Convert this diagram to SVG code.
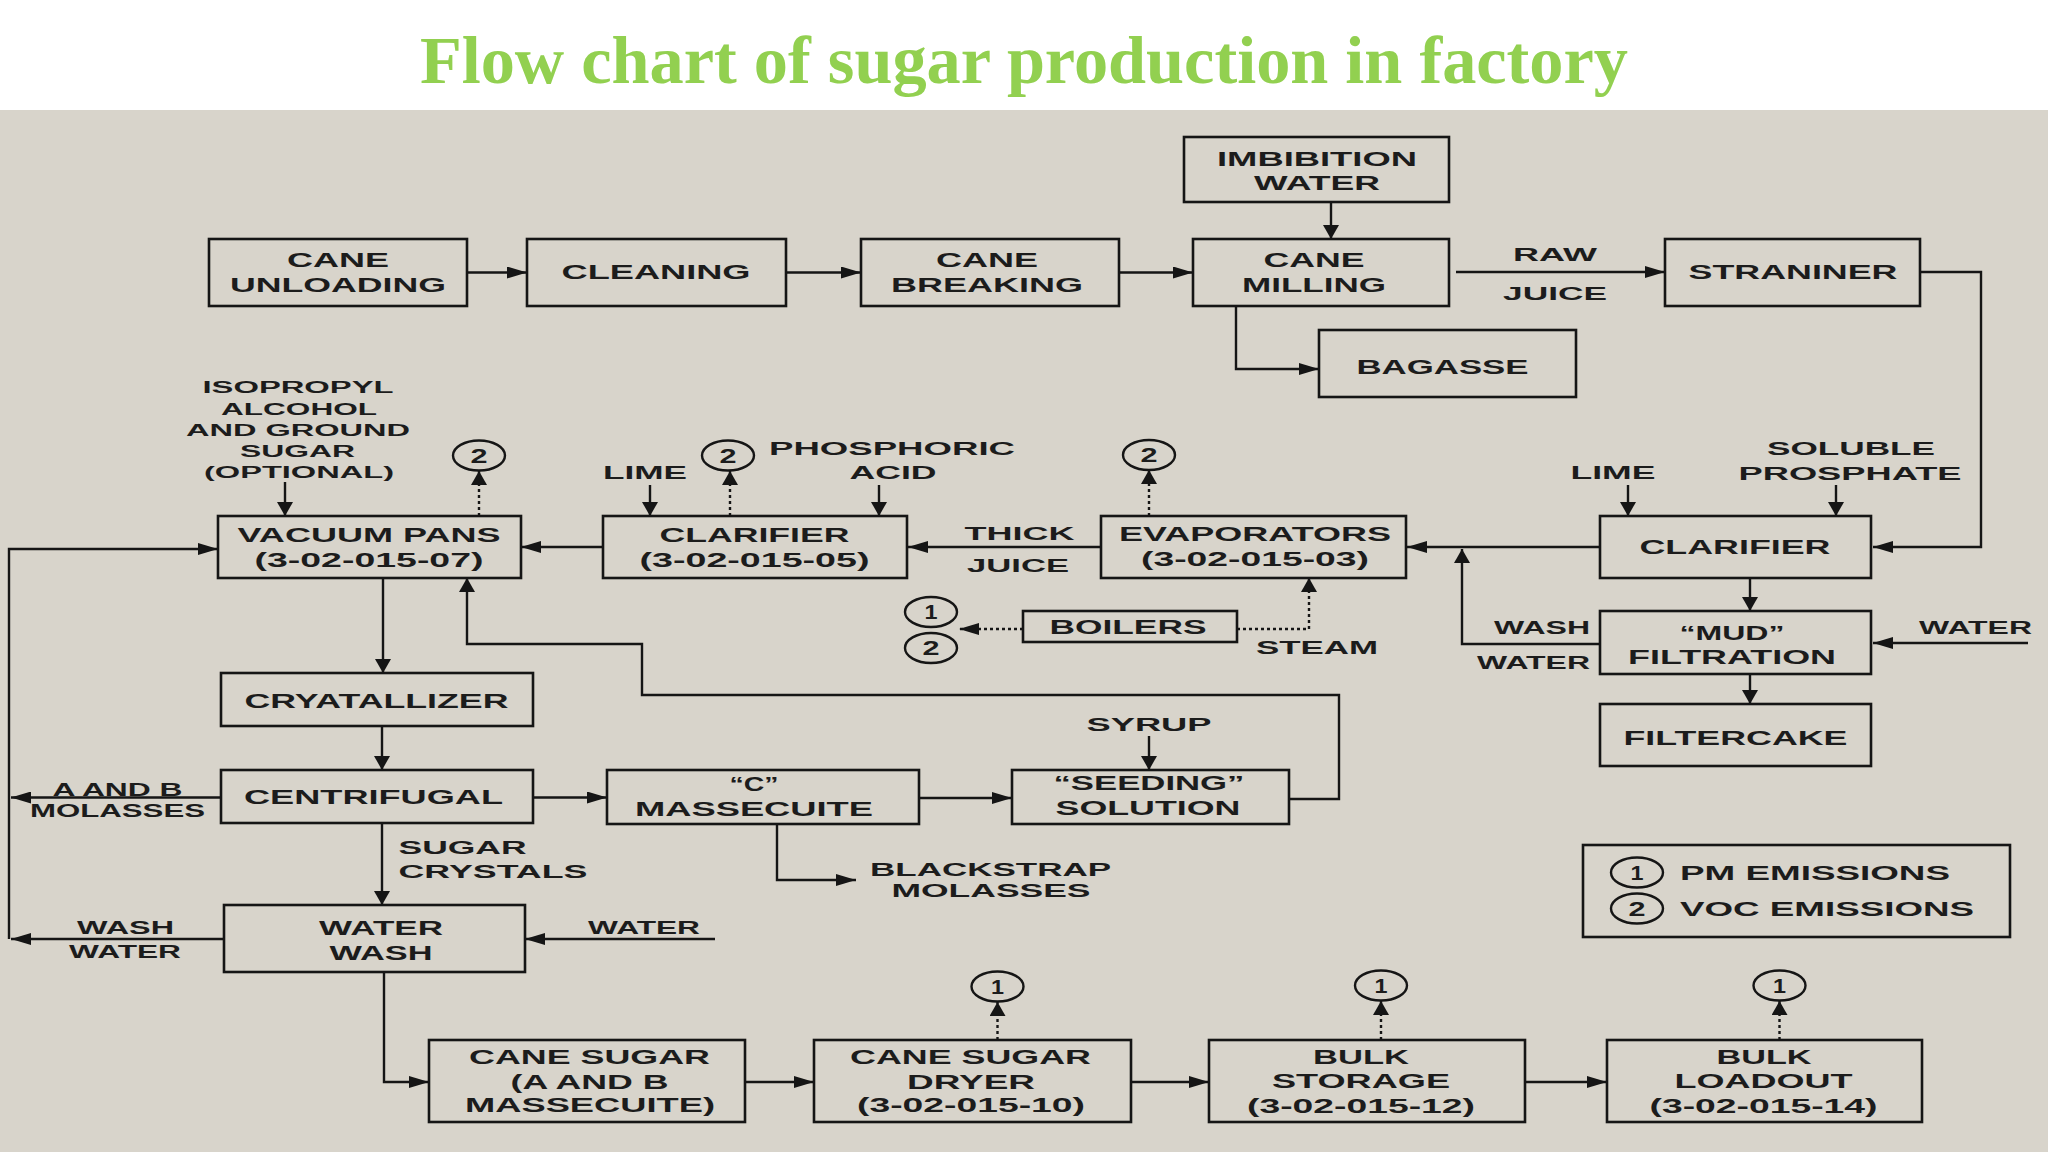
<svg xmlns="http://www.w3.org/2000/svg" width="2048" height="1152" viewBox="0 0 2048 1152">
<style>
.bg{fill:#d8d4cb}
.box{fill:none;stroke:#151515;stroke-width:2.6}
.t{font-family:"Liberation Sans",Arial,sans-serif;font-weight:bold;font-size:20px;fill:#1c1c1c;text-anchor:middle}
.s{font-size:18px}
.xs{font-size:16px}
.d{font-size:20px}
.st{text-anchor:start}
.en{text-anchor:end}
.ln{fill:none;stroke:#151515;stroke-width:2.4}
.dot{stroke-dasharray:3 3}
.em{fill:none;stroke:#151515;stroke-width:2.4}
.title{font-family:"Liberation Serif","Times New Roman",serif;font-weight:bold;font-size:68px;fill:#92d050;text-anchor:middle}
</style>
<defs>
<marker id="mh" markerWidth="20" markerHeight="12" refX="20" refY="6" orient="auto" markerUnits="userSpaceOnUse"><path d="M0,0 L20,6 L0,12 z" fill="#151515"/></marker>
<marker id="mv" markerWidth="14" markerHeight="16" refX="14" refY="8" orient="auto" markerUnits="userSpaceOnUse"><path d="M0,0 L14,8 L0,16 z" fill="#151515"/></marker>
</defs>
<rect x="0" y="0" width="2048" height="110" fill="#ffffff"/>
<rect class="bg" x="0" y="110" width="2048" height="1042"/>
<text class="title" x="1024" y="83" textLength="1208" lengthAdjust="spacingAndGlyphs">Flow chart of sugar production in factory</text>

<g id="connectors">
<path class="ln" d="M467,272.5 H527" marker-end="url(#mh)"/>
<path class="ln" d="M786,272.5 H861" marker-end="url(#mh)"/>
<path class="ln" d="M1119,272.5 H1193" marker-end="url(#mh)"/>
<path class="ln" d="M1331,202 V239" marker-end="url(#mv)"/>
<path class="ln" d="M1456,272 H1665" marker-end="url(#mh)"/>
<path class="ln" d="M1236,306 V369 H1319" marker-end="url(#mh)"/>
<path class="ln" d="M1920,272 H1981 V547 H1873" marker-end="url(#mh)"/>
<path class="ln" d="M1600,547 H1407" marker-end="url(#mh)"/>
<path class="ln" d="M1101,547 H908" marker-end="url(#mh)"/>
<path class="ln" d="M603,547 H521" marker-end="url(#mh)"/>
<path class="ln" d="M285,482 V516" marker-end="url(#mv)"/>
<path class="ln" d="M650,485 V516" marker-end="url(#mv)"/>
<path class="ln" d="M879,485 V516" marker-end="url(#mv)"/>
<path class="ln" d="M1628,485 V516" marker-end="url(#mv)"/>
<path class="ln" d="M1836,485 V516" marker-end="url(#mv)"/>
<path class="ln" d="M1750,578 V611" marker-end="url(#mv)"/>
<path class="ln" d="M1750,674 V704" marker-end="url(#mv)"/>
<path class="ln" d="M2028,643 H1873" marker-end="url(#mh)"/>
<path class="ln" d="M1600,644 H1462 V549" marker-end="url(#mv)"/>
<path class="ln dot" d="M479,516 V471" marker-end="url(#mv)"/>
<path class="ln dot" d="M730,516 V471" marker-end="url(#mv)"/>
<path class="ln dot" d="M1149,516 V470" marker-end="url(#mv)"/>
<path class="ln dot" d="M1023,629 H959" marker-end="url(#mh)"/>
<path class="ln dot" d="M1237,629 H1309 V578" marker-end="url(#mv)"/>
<path class="ln dot" d="M997.5,1040 V1002" marker-end="url(#mv)"/>
<path class="ln dot" d="M1381,1040 V1001" marker-end="url(#mv)"/>
<path class="ln dot" d="M1779.5,1040 V1001" marker-end="url(#mv)"/>
<path class="ln" d="M383,578 V673" marker-end="url(#mv)"/>
<path class="ln" d="M382,726 V770" marker-end="url(#mv)"/>
<path class="ln" d="M533,797.5 H607" marker-end="url(#mh)"/>
<path class="ln" d="M919,798 H1012" marker-end="url(#mh)"/>
<path class="ln" d="M1149,736 V770" marker-end="url(#mv)"/>
<path class="ln" d="M1289,799 H1339 V695 H642 V644 H467 V578" marker-end="url(#mv)"/>
<path class="ln" d="M777,824 V880 H856" marker-end="url(#mh)"/>
<path class="ln" d="M221,797.5 H11" marker-end="url(#mh)"/>
<path class="ln" d="M382,823 V905" marker-end="url(#mv)"/>
<path class="ln" d="M224,939 H11" marker-end="url(#mh)"/>
<path class="ln" d="M715,939 H525" marker-end="url(#mh)"/>
<path class="ln" d="M9,939 V549 H218" marker-end="url(#mh)"/>
<path class="ln" d="M384,972 V1082 H429" marker-end="url(#mh)"/>
<path class="ln" d="M745,1082 H814" marker-end="url(#mh)"/>
<path class="ln" d="M1131,1082 H1209" marker-end="url(#mh)"/>
<path class="ln" d="M1525,1082 H1607" marker-end="url(#mh)"/>
</g>

<g id="labels">
<text class="t xs" x="298" y="393" textLength="191" lengthAdjust="spacingAndGlyphs">ISOPROPYL</text>
<text class="t xs" x="299" y="415" textLength="156" lengthAdjust="spacingAndGlyphs">ALCOHOL</text>
<text class="t xs" x="298" y="435.5" textLength="224" lengthAdjust="spacingAndGlyphs">AND GROUND</text>
<text class="t xs" x="297.5" y="456.5" textLength="115" lengthAdjust="spacingAndGlyphs">SUGAR</text>
<text class="t xs" x="299" y="478" textLength="190" lengthAdjust="spacingAndGlyphs">(OPTIONAL)</text>
<text class="t s" x="645" y="479" textLength="84" lengthAdjust="spacingAndGlyphs">LIME</text>
<text class="t s" x="892" y="455" textLength="246" lengthAdjust="spacingAndGlyphs">PHOSPHORIC</text>
<text class="t s" x="893" y="478.5" textLength="87" lengthAdjust="spacingAndGlyphs">ACID</text>
<text class="t s" x="1019.5" y="540" textLength="110" lengthAdjust="spacingAndGlyphs">THICK</text>
<text class="t s" x="1018" y="571.5" textLength="102" lengthAdjust="spacingAndGlyphs">JUICE</text>
<text class="t s" x="1555" y="260.5" textLength="84" lengthAdjust="spacingAndGlyphs">RAW</text>
<text class="t s" x="1555" y="300" textLength="104" lengthAdjust="spacingAndGlyphs">JUICE</text>
<text class="t s" x="1613" y="478.5" textLength="85" lengthAdjust="spacingAndGlyphs">LIME</text>
<text class="t s" x="1851" y="455" textLength="168" lengthAdjust="spacingAndGlyphs">SOLUBLE</text>
<text class="t s" x="1850" y="480" textLength="223" lengthAdjust="spacingAndGlyphs">PROSPHATE</text>
<text class="t s" x="1317" y="653.5" textLength="122" lengthAdjust="spacingAndGlyphs">STEAM</text>
<text class="t s en" x="1590" y="633.5" textLength="96" lengthAdjust="spacingAndGlyphs">WASH</text>
<text class="t s en" x="1590" y="668.5" textLength="113" lengthAdjust="spacingAndGlyphs">WATER</text>
<text class="t s" x="1975.5" y="633.5" textLength="113" lengthAdjust="spacingAndGlyphs">WATER</text>
<text class="t s" x="1149" y="730.5" textLength="125" lengthAdjust="spacingAndGlyphs">SYRUP</text>
<text class="t s" x="117.5" y="795.5" textLength="130" lengthAdjust="spacingAndGlyphs">A AND B</text>
<text class="t s" x="117.5" y="816.5" textLength="175" lengthAdjust="spacingAndGlyphs">MOLASSES</text>
<text class="t s st" x="398.5" y="853.5" textLength="128" lengthAdjust="spacingAndGlyphs">SUGAR</text>
<text class="t s st" x="398.5" y="877.5" textLength="189" lengthAdjust="spacingAndGlyphs">CRYSTALS</text>
<text class="t s" x="990.5" y="875.5" textLength="241" lengthAdjust="spacingAndGlyphs">BLACKSTRAP</text>
<text class="t s" x="991" y="897" textLength="199" lengthAdjust="spacingAndGlyphs">MOLASSES</text>
<text class="t s" x="125.5" y="934" textLength="97" lengthAdjust="spacingAndGlyphs">WASH</text>
<text class="t s" x="125" y="957.5" textLength="112" lengthAdjust="spacingAndGlyphs">WATER</text>
<text class="t s" x="644" y="933.5" textLength="112" lengthAdjust="spacingAndGlyphs">WATER</text>
</g>

<g id="emissions">
<ellipse class="em" cx="479" cy="455.5" rx="26" ry="15"/><text class="t d" x="479" y="462.5" textLength="17" lengthAdjust="spacingAndGlyphs">2</text>
<ellipse class="em" cx="728" cy="455.5" rx="26" ry="15"/><text class="t d" x="728" y="462.5" textLength="17" lengthAdjust="spacingAndGlyphs">2</text>
<ellipse class="em" cx="1149" cy="455" rx="26" ry="15"/><text class="t d" x="1149" y="462" textLength="17" lengthAdjust="spacingAndGlyphs">2</text>
<ellipse class="em" cx="931" cy="612" rx="26" ry="15"/><text class="t d" x="931" y="619" textLength="13" lengthAdjust="spacingAndGlyphs">1</text>
<ellipse class="em" cx="931" cy="648" rx="26" ry="15"/><text class="t d" x="931" y="655" textLength="17" lengthAdjust="spacingAndGlyphs">2</text>
<ellipse class="em" cx="997.5" cy="986.5" rx="26" ry="15"/><text class="t d" x="997.5" y="993.5" textLength="13" lengthAdjust="spacingAndGlyphs">1</text>
<ellipse class="em" cx="1381" cy="985.5" rx="26" ry="15"/><text class="t d" x="1381" y="992.5" textLength="13" lengthAdjust="spacingAndGlyphs">1</text>
<ellipse class="em" cx="1779.5" cy="985.5" rx="26" ry="15"/><text class="t d" x="1779.5" y="992.5" textLength="13" lengthAdjust="spacingAndGlyphs">1</text>
</g>

<g id="cane-unloading"><rect class="box" x="209" y="239" width="258" height="67"/>
<text class="t" x="338" y="266.5" textLength="102" lengthAdjust="spacingAndGlyphs">CANE</text>
<text class="t" x="338" y="291.5" textLength="216" lengthAdjust="spacingAndGlyphs">UNLOADING</text></g>
<g id="cleaning"><rect class="box" x="527" y="239" width="259" height="67"/>
<text class="t" x="656" y="278.5" textLength="189" lengthAdjust="spacingAndGlyphs">CLEANING</text></g>
<g id="cane-breaking"><rect class="box" x="861" y="239" width="258" height="67"/>
<text class="t" x="987" y="266.5" textLength="102" lengthAdjust="spacingAndGlyphs">CANE</text>
<text class="t" x="987" y="291.5" textLength="192" lengthAdjust="spacingAndGlyphs">BREAKING</text></g>
<g id="imbibition-water"><rect class="box" x="1184" y="137" width="265" height="65"/>
<text class="t" x="1317" y="166" textLength="200" lengthAdjust="spacingAndGlyphs">IMBIBITION</text>
<text class="t" x="1317" y="190" textLength="126" lengthAdjust="spacingAndGlyphs">WATER</text></g>
<g id="cane-milling"><rect class="box" x="1193" y="239" width="256" height="67"/>
<text class="t" x="1314" y="266.5" textLength="101" lengthAdjust="spacingAndGlyphs">CANE</text>
<text class="t" x="1314" y="291.5" textLength="144" lengthAdjust="spacingAndGlyphs">MILLING</text></g>
<g id="straniner"><rect class="box" x="1665" y="239" width="255" height="67"/>
<text class="t" x="1793" y="278.5" textLength="209" lengthAdjust="spacingAndGlyphs">STRANINER</text></g>
<g id="bagasse"><rect class="box" x="1319" y="330" width="257" height="67"/>
<text class="t" x="1442.5" y="374" textLength="172" lengthAdjust="spacingAndGlyphs">BAGASSE</text></g>
<g id="vacuum-pans"><rect class="box" x="218" y="516" width="303" height="62"/>
<text class="t" x="369" y="541.5" textLength="263" lengthAdjust="spacingAndGlyphs">VACUUM PANS</text>
<text class="t" x="369" y="566.5" textLength="229" lengthAdjust="spacingAndGlyphs">(3-02-015-07)</text></g>
<g id="clarifier-1"><rect class="box" x="603" y="516" width="304" height="62"/>
<text class="t" x="754.5" y="541.5" textLength="190" lengthAdjust="spacingAndGlyphs">CLARIFIER</text>
<text class="t" x="754.5" y="566.5" textLength="230" lengthAdjust="spacingAndGlyphs">(3-02-015-05)</text></g>
<g id="evaporators"><rect class="box" x="1101" y="516" width="305" height="62"/>
<text class="t" x="1255" y="540.5" textLength="272" lengthAdjust="spacingAndGlyphs">EVAPORATORS</text>
<text class="t" x="1255" y="566" textLength="228" lengthAdjust="spacingAndGlyphs">(3-02-015-03)</text></g>
<g id="clarifier-2"><rect class="box" x="1600" y="516" width="271" height="62"/>
<text class="t" x="1735" y="554" textLength="191" lengthAdjust="spacingAndGlyphs">CLARIFIER</text></g>
<g id="boilers"><rect class="box" x="1023" y="611" width="214" height="31"/>
<text class="t" x="1128" y="633.5" textLength="157" lengthAdjust="spacingAndGlyphs">BOILERS</text></g>
<g id="mud-filtration"><rect class="box" x="1600" y="611" width="271" height="63"/>
<text class="t" x="1732" y="640" textLength="105" lengthAdjust="spacingAndGlyphs">“MUD”</text>
<text class="t" x="1732" y="663.5" textLength="208" lengthAdjust="spacingAndGlyphs">FILTRATION</text></g>
<g id="filtercake"><rect class="box" x="1600" y="704" width="271" height="62"/>
<text class="t" x="1735.5" y="745" textLength="224" lengthAdjust="spacingAndGlyphs">FILTERCAKE</text></g>
<g id="cryatallizer"><rect class="box" x="221" y="673" width="312" height="53"/>
<text class="t" x="376.5" y="707.5" textLength="264" lengthAdjust="spacingAndGlyphs">CRYATALLIZER</text></g>
<g id="centrifugal"><rect class="box" x="221" y="770" width="312" height="53"/>
<text class="t" x="373.5" y="804" textLength="259" lengthAdjust="spacingAndGlyphs">CENTRIFUGAL</text></g>
<g id="c-massecuite"><rect class="box" x="607" y="770" width="312" height="54"/>
<text class="t" x="754" y="790.5" textLength="49" lengthAdjust="spacingAndGlyphs">“C”</text>
<text class="t" x="754" y="815.5" textLength="238" lengthAdjust="spacingAndGlyphs">MASSECUITE</text></g>
<g id="seeding-solution"><rect class="box" x="1012" y="770" width="277" height="54"/>
<text class="t" x="1149" y="790" textLength="191" lengthAdjust="spacingAndGlyphs">“SEEDING”</text>
<text class="t" x="1148" y="815" textLength="185" lengthAdjust="spacingAndGlyphs">SOLUTION</text></g>
<g id="water-wash"><rect class="box" x="224" y="905" width="301" height="67"/>
<text class="t" x="381" y="935" textLength="124" lengthAdjust="spacingAndGlyphs">WATER</text>
<text class="t" x="381" y="959.5" textLength="103" lengthAdjust="spacingAndGlyphs">WASH</text></g>
<g id="cane-sugar"><rect class="box" x="429" y="1040" width="316" height="82"/>
<text class="t" x="589.5" y="1063.5" textLength="241" lengthAdjust="spacingAndGlyphs">CANE SUGAR</text>
<text class="t" x="589.5" y="1088.5" textLength="158" lengthAdjust="spacingAndGlyphs">(A AND B</text>
<text class="t" x="590" y="1112" textLength="250" lengthAdjust="spacingAndGlyphs">MASSECUITE)</text></g>
<g id="cane-sugar-dryer"><rect class="box" x="814" y="1040" width="317" height="82"/>
<text class="t" x="970.5" y="1063.5" textLength="241" lengthAdjust="spacingAndGlyphs">CANE SUGAR</text>
<text class="t" x="971" y="1088.5" textLength="128" lengthAdjust="spacingAndGlyphs">DRYER</text>
<text class="t" x="971" y="1112" textLength="228" lengthAdjust="spacingAndGlyphs">(3-02-015-10)</text></g>
<g id="bulk-storage"><rect class="box" x="1209" y="1040" width="316" height="82"/>
<text class="t" x="1361" y="1063.5" textLength="96" lengthAdjust="spacingAndGlyphs">BULK</text>
<text class="t" x="1361" y="1088" textLength="178" lengthAdjust="spacingAndGlyphs">STORAGE</text>
<text class="t" x="1361" y="1112.5" textLength="228" lengthAdjust="spacingAndGlyphs">(3-02-015-12)</text></g>
<g id="bulk-loadout"><rect class="box" x="1607" y="1040" width="315" height="82"/>
<text class="t" x="1764" y="1063.5" textLength="95" lengthAdjust="spacingAndGlyphs">BULK</text>
<text class="t" x="1763.5" y="1088" textLength="178" lengthAdjust="spacingAndGlyphs">LOADOUT</text>
<text class="t" x="1763.5" y="1112.5" textLength="228" lengthAdjust="spacingAndGlyphs">(3-02-015-14)</text></g>
<g id="legend"><rect class="box" x="1583" y="845" width="427" height="92"/>
<ellipse class="em" cx="1637" cy="872.5" rx="26" ry="15"/><text class="t d" x="1637" y="879.5" textLength="13" lengthAdjust="spacingAndGlyphs">1</text>
<ellipse class="em" cx="1637" cy="908.5" rx="26" ry="15"/><text class="t d" x="1637" y="915.5" textLength="17" lengthAdjust="spacingAndGlyphs">2</text>
<text class="t st" x="1680" y="880" textLength="270" lengthAdjust="spacingAndGlyphs">PM EMISSIONS</text>
<text class="t st" x="1680" y="915.5" textLength="294" lengthAdjust="spacingAndGlyphs">VOC EMISSIONS</text></g>
</svg>
